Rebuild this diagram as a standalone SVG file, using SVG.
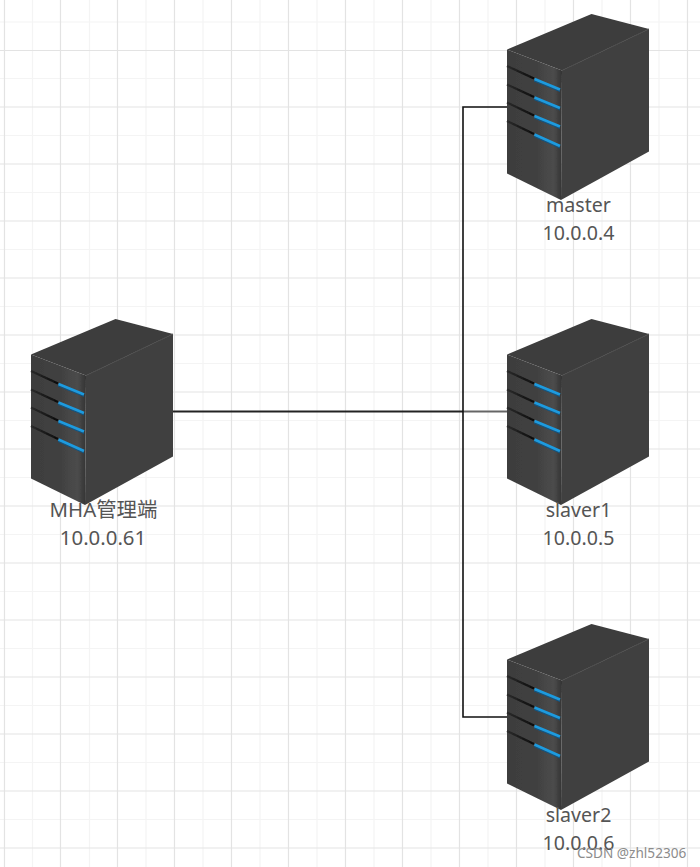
<svg xmlns="http://www.w3.org/2000/svg" width="700" height="867" viewBox="0 0 700 867">
<style>
.maj{stroke:#e3e3e3;stroke-width:1.2;fill:none}
.min{stroke:#f4f4f4;stroke-width:1.2;fill:none}
.lbl{font-family:"Noto Sans","Noto Sans CJK SC",sans-serif;font-size:19.6px;fill:#555;text-anchor:middle}
.lblw{font-size:20.4px}
.wm{font-family:"Noto Sans",sans-serif;font-size:13.6px;fill:#8c8c8c}
.c{stroke:#222;stroke-width:2;fill:none}
.slot{stroke:url(#sg);stroke-width:2.4;fill:none}
.led{stroke:#1d9be0;stroke-width:2.6;fill:none}
.ledb{stroke:#0c5688;stroke-width:1;fill:none}
</style>
<defs>
<filter id="soft" x="-5%" y="-5%" width="110%" height="110%"><feGaussianBlur stdDeviation="0.45"/></filter>
<linearGradient id="lf" x1="0" y1="0" x2="1" y2="0">
<stop offset="0" stop-color="#3d3d3d"/><stop offset=".55" stop-color="#414141"/><stop offset=".85" stop-color="#4c4c4c"/><stop offset="1" stop-color="#333"/>
</linearGradient>
<linearGradient id="sg" gradientUnits="userSpaceOnUse" x1="507" y1="0" x2="534" y2="0">
<stop offset="0" stop-color="#2a2a2a"/><stop offset="1" stop-color="#0d0d0d"/>
</linearGradient>
<g id="srv" filter="url(#soft)">
<path d="M507 49.500L591.500 14L649 29L562 70.500Z" fill="#3c3c3c"/>
<path d="M562 70.500L649 29V151.500L561 200Z" fill="#404040"/>
<path d="M507 49.500L562 70.500L561 200L507 173.500Z" fill="url(#lf)"/>
<path d="M562 70.500L649 29" fill="none" stroke="#4c4c4c" stroke-width="1"/>
<path class="slot" d="M507 66L534 78.500M507 84.500L534 97M507 102.500L534 115.500M507 121L534 134"/>
<path class="ledb" d="M534 81L560 91.500M534 99.500L560 110M534 118L560 128.500M534 136.500L560 148"/>
<path class="led" d="M534.500 79L560 89.500M534.500 97.500L560 108M534.500 116L560 126.500M534.500 134.500L560 146"/>
</g>
</defs>
<rect width="700" height="867" fill="#fff"/>
<g id="grid">
<path class="min" d="M32.500 0V867M89.500 0V867M146 0V867M203 0V867M260 0V867M317 0V867M374 0V867M431 0V867M488 0V867M545 0V867M602 0V867M659 0V867M0 22H700M0 78.500H700M0 135.500H700M0 192.500H700M0 249.500H700M0 306.500H700M0 363.500H700M0 420.500H700M0 477.500H700M0 534.500H700M0 591.500H700M0 648.500H700M0 705.500H700M0 762.500H700M0 819.500H700"/>
<path class="maj" d="M4.500 0V867M60.500 0V867M117.500 0V867M174.500 0V867M231.500 0V867M288.500 0V867M345.500 0V867M402.500 0V867M459.500 0V867M516.500 0V867M573.500 0V867M630.500 0V867M687.500 0V867M0 50.500H700M0 107H700M0 164H700M0 221H700M0 278H700M0 335H700M0 392H700M0 449H700M0 506H700M0 563H700M0 620H700M0 677H700M0 734H700M0 791H700M0 848H700"/>
</g>
<g id="connectors">
<path class="c" d="M173 411.500H463"/>
<path d="M463 411.500H507" fill="none" stroke="#666" stroke-width="2"/>
<path d="M507 107H463V717H507" fill="none" stroke="#111" stroke-width="1.600"/>
</g>
<g id="node-master">
<use href="#srv"/>
<text class="lbl" x="578.500" y="212">master</text>
<text class="lbl" x="578.500" y="240">10.0.0.4</text>
</g>
<g id="node-slaver1">
<use href="#srv" y="305"/>
<text class="lbl" x="578.500" y="517">slaver1</text>
<text class="lbl" x="578.500" y="545">10.0.0.5</text>
</g>
<g id="node-slaver2">
<use href="#srv" y="610"/>
<text class="lbl" x="578.500" y="822">slaver2</text>
<text class="lbl" x="578.500" y="850">10.0.0.6</text>
</g>
<g id="node-mha">
<use href="#srv" x="-476" y="305"/>
<text class="lbl lblw" x="103.500" y="517">MHA管理端</text>
<text class="lbl lblw" x="103" y="545">10.0.0.61</text>
</g>
<text class="wm" x="577" y="858">CSDN @zhl52306</text>
</svg>
